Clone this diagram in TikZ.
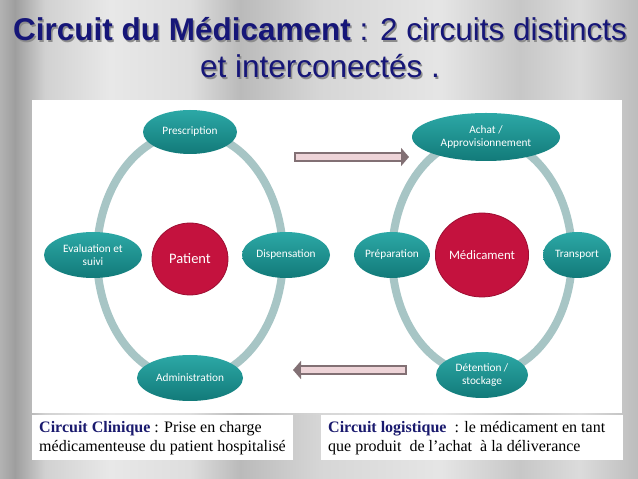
\documentclass[tikz,border=0pt]{standalone}
\usepackage{fontspec}
\setmainfont{Liberation Sans}
\newfontfamily\carlito{Carlito}
\newfontfamily\tnr{Liberation Serif}
\usetikzlibrary{shapes.geometric,arrows.meta}
\definecolor{navy}{RGB}{22,22,120}
\definecolor{boxnavy}{RGB}{26,26,110}
\definecolor{ringc}{RGB}{167,197,197}
\definecolor{tealtop}{RGB}{44,168,166}
\definecolor{tealbot}{RGB}{18,122,121}
\definecolor{crimson}{RGB}{196,18,62}
\definecolor{arrdark}{RGB}{130,112,116}
\definecolor{arrlight}{RGB}{238,212,216}
\tikzset{
  stage/.style={ellipse, inner sep=0pt, top color=tealtop, bottom color=tealbot,
    text=white, font=\carlito\fontsize{11.3}{12.5}\selectfont, align=center},
  core/.style={ellipse, inner sep=0pt, fill=crimson, draw=crimson!80!black, line width=0.8pt,
    text=white, font=\carlito\fontsize{14.5}{16}\selectfont},
  ring/.style={draw=ringc, line width=8pt},
  flowarrow/.style={line width=9.5pt, color=arrdark, -{Triangle[length=8pt,width=18pt]}},
  flowinner/.style={line width=6pt, color=arrlight, shorten >=8pt, shorten <=1.6pt},
  legtext/.style={anchor=north west, align=left, inner sep=0pt,
    font=\tnr\fontsize{16}{18.5}\selectfont},
}
\begin{document}
\begin{tikzpicture}[x=1pt,y=1pt]
\useasboundingbox (0,0) rectangle (638,479);
% silver background with vertical bands
\shade[left color=black!30, right color=black!38] (0,0) rectangle (15,479);
\shade[left color=black!38, right color=black!18] (15,0) rectangle (45,479);
\shade[left color=black!18, right color=black!9] (45,0) rectangle (110,479);
\shade[left color=black!9, right color=black!13] (110,0) rectangle (190,479);
\shade[left color=black!13, right color=black!27] (190,0) rectangle (240,479);
\shade[left color=black!27, right color=black!16] (240,0) rectangle (320,479);
\shade[left color=black!16, right color=black!10] (320,0) rectangle (440,479);
\shade[left color=black!10, right color=black!22] (440,0) rectangle (520,479);
\shade[left color=black!22, right color=black!14] (520,0) rectangle (580,479);
\shade[left color=black!14, right color=black!26] (580,0) rectangle (638,479);
% white panel
\fill[white] (32,66) rectangle (622,379);
% title
\node[text=black!45, font=\fontsize{31.5}{36}\selectfont, anchor=base] at (321.5,436.5)
  {\textbf{Circuit du Médicament} : 2 circuits distincts};
\node[text=black!45, font=\fontsize{31.5}{36}\selectfont, anchor=base] at (321.5,399.5)
  {et interconectés .};
\node (title1) [text=navy, font=\fontsize{31.5}{36}\selectfont, anchor=base] at (320,438)
  {\textbf{Circuit du Médicament} : 2 circuits distincts};
\node (title2) [text=navy, font=\fontsize{31.5}{36}\selectfont, anchor=base] at (320,401)
  {et interconectés .};
% left circuit
\coordinate (lc) at (190,223);
\draw[ring] (lc) ellipse [x radius=93, y radius=124];
\node (presc) [stage, minimum width=94pt, minimum height=44pt] at (190,347) {Prescription};
\node (eval) [stage, minimum width=98pt, minimum height=46pt] at (93,224) {Evaluation et\\suivi};
\node (disp) [stage, minimum width=88pt, minimum height=46pt] at (286,224) {Dispensation};
\node (admin) [stage, minimum width=106pt, minimum height=46pt] at (190,101) {Administration};
\node (patient) [core, minimum width=76pt, minimum height=72pt] at (190,220) {Patient};
% right circuit
\coordinate (rc) at (482,223);
\draw[ring] (rc) ellipse [x radius=90, y radius=119];
\node (achat) [stage, minimum width=148pt, minimum height=48pt] at (486,342) {Achat /\\Approvisionnement};
\node (prep) [stage, minimum width=76pt, minimum height=46pt] at (392,224) {Préparation};
\node (transp) [stage, minimum width=68pt, minimum height=46pt] at (577,224) {Transport};
\node (deten) [stage, minimum width=92pt, minimum height=46pt] at (482,104) {Détention /\\stockage};
\node (medic) [core, minimum width=92pt, minimum height=84pt,
  font=\carlito\fontsize{12.8}{15}\selectfont] at (482,224) {Médicament};
% arrows between circuits
\coordinate (a1s) at (294,322);
\coordinate (a1e) at (409,322);
\coordinate (a2s) at (407,109);
\coordinate (a2e) at (293,109);
\draw[flowarrow] (a1s) -- (a1e);
\draw[flowinner] (a1s) -- (a1e);
\draw[flowarrow] (a2s) -- (a2e);
\draw[flowinner] (a2s) -- (a2e);
% legends
\fill[white] (32,19) rectangle (293,64);
\fill[white] (321,19) rectangle (623,64);
\node (leg1) [legtext] at (39,57.5)
  {\textcolor{boxnavy}{\textbf{Circuit Clinique}} : Prise en charge\\médicamenteuse du patient hospitalisé};
\node (leg2) [legtext] at (328,57.5)
  {\textcolor{boxnavy}{\textbf{Circuit logistique}}\ \ : le médicament en tant\\que produit\ \ de l’achat\ \ à la déliverance};
\end{tikzpicture}
\end{document}
